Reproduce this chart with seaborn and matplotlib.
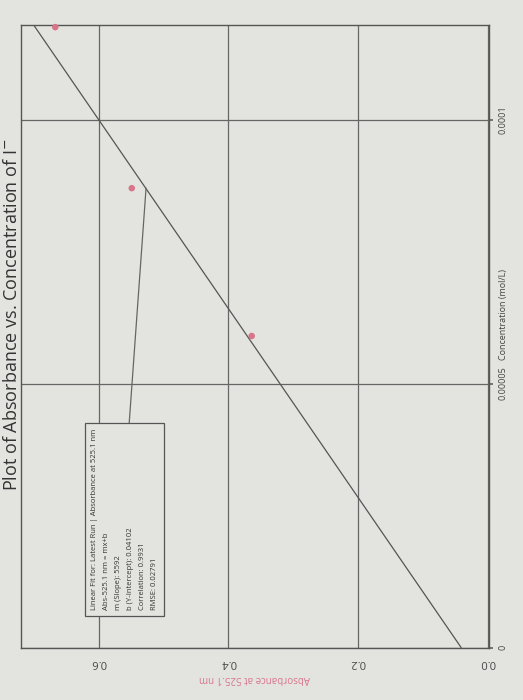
import matplotlib
matplotlib.use("Agg")
import matplotlib.pyplot as plt
import seaborn as sns
import pandas as pd
import numpy as np

# data read from the (rotated) photo
conc_pts = [5.9e-5, 8.7e-5, 1.175e-4]
abs_pts = [0.364, 0.549, 0.667]
slope = 5592
intercept = 0.04102
fit_conc = [0.0, 1.18e-4]
fit_abs = [intercept + slope * c for c in fit_conc]

abs_ticks = [0.0, 0.2, 0.4, 0.6]
conc_ticks = [0.0, 0.00005, 0.0001]
conc_labels = ['0', '0.00005', '0.0001']

bg = '#e3e3e0'
sns.set_theme(style='white')
plt.rcParams['font.family'] = ['Open Sans', 'DejaVu Sans']

fig = plt.figure(figsize=(5.23, 7), dpi=100, facecolor=bg)
ax = fig.add_axes([0.04, 0.075, 0.895, 0.89])
ax.set_facecolor(bg)

pts = pd.DataFrame({'Absorbance': abs_pts, 'Concentration': conc_pts})
fit = pd.DataFrame({'Absorbance': fit_abs, 'Concentration': fit_conc})

sns.lineplot(data=fit, x='Absorbance', y='Concentration', color='#555555',
             lw=0.9, sort=False, ax=ax)
sns.scatterplot(data=pts, x='Absorbance', y='Concentration', color='#d9758a',
                s=22, edgecolor='none', ax=ax, zorder=5, clip_on=False)

ax.set_xlim(0.72, -0.002)
ax.set_ylim(0, 0.000118)
ax.set_xticks(abs_ticks)
ax.set_xticklabels([f'{t:.1f}' for t in abs_ticks], rotation=180, fontsize=8, color='#444444')
ax.yaxis.tick_right()
ax.set_yticks(conc_ticks)
ax.set_yticklabels(conc_labels, rotation=90, va='center', fontsize=6.5, color='#444444')
ax.grid(True, color='#666666', lw=0.9)
ax.tick_params(length=3, color='#666666')
for s in ax.spines.values():
    s.set_color('#555555')
    s.set_linewidth(1.0)

ax.set_xlabel('Absorbance at 525.1 nm', rotation=180, color='#d9758a', fontsize=7)
ax.set_ylabel('')
fig.text(0.962, 0.55, 'Concentration (mol/L)', rotation=90, ha='center', va='center',
         fontsize=6.5, color='#444444')
fig.text(0.022, 0.55, 'Plot of Absorbance vs. Concentration of I$^{-}$', rotation=90,
         ha='center', va='center', fontsize=13, color='#333333')

# leader line from the fit box to the curve
ax.plot([0.553, 0.527], [4.25e-5, 8.7e-5], color='#666666', lw=0.9)
box_txt = ('Linear Fit for: Latest Run | Absorbance at 525.1 nm\n'
           'Abs-525.1 nm = mx+b\n'
           'm (Slope): 5592\n'
           'b (Y-Intercept): 0.04102\n'
           'Correlation: 0.9931\n'
           'RMSE: 0.02791')
ax.text(0.15, 0.06, box_txt, transform=ax.transAxes, rotation=90, ha='left', va='bottom',
        fontsize=5.5, color='#333333', linespacing=2.0,
        bbox=dict(boxstyle='square,pad=0.8', fc=bg, ec='#555555', lw=0.9))

fig.savefig('out.png', dpi=100, facecolor=bg)
